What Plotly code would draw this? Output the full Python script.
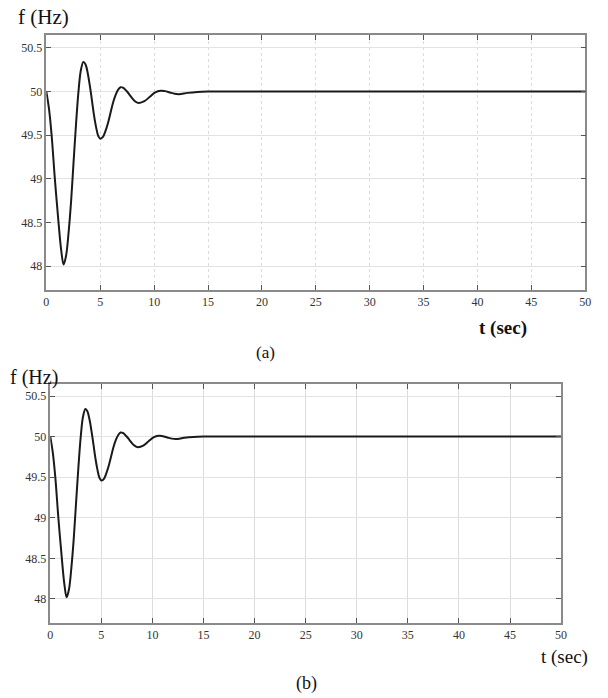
import plotly.graph_objects as go

# Data (same response in both panels)
t_sec = [0, 0.25, 0.49, 0.79, 1.13, 1.38, 1.6, 1.83, 2.06, 2.3, 2.52, 2.75, 2.98, 3.21, 3.44,
         3.64, 3.84, 4.03, 4.23, 4.42, 4.62, 4.82, 5.02, 5.25, 5.49, 5.72, 5.95, 6.18, 6.42, 6.65, 6.88,
         7.1, 7.31, 7.52, 7.74, 7.96, 8.17, 8.39, 8.6, 9.1, 9.6, 10.1, 10.6, 11.0, 11.45, 11.9, 12.3,
         13.1, 14.0, 15.0, 17, 20, 30, 40, 50]
f_hz = [50.0, 49.8, 49.5, 49.0, 48.5, 48.18, 48.02, 48.12, 48.38, 48.75, 49.18, 49.62, 50.0, 50.25, 50.34,
        50.31, 50.21, 50.07, 49.9, 49.73, 49.59, 49.49, 49.46, 49.48, 49.55, 49.64, 49.755, 49.87, 49.96, 50.02, 50.05,
        50.045, 50.024, 49.995, 49.96, 49.925, 49.896, 49.877, 49.87, 49.89, 49.94, 49.99, 50.01, 50.005, 49.99, 49.975, 49.97,
        49.985, 49.996, 50.0, 50.0, 50.0, 50.0, 50.0, 50.0]

x_ticks = [0, 5, 10, 15, 20, 25, 30, 35, 40, 45, 50]
x_tick_labels = ["0", "5", "10", "15", "20", "25", "30", "35", "40", "45", "50"]
y_ticks = [48, 48.5, 49, 49.5, 50, 50.5]
y_tick_labels = ["48", "48.5", "49", "49.5", "50", "50.5"]

FONT = "Liberation Serif"

fig = go.Figure()
for xa, ya in (("x", "y"), ("x2", "y2")):
    fig.add_trace(go.Scatter(x=t_sec, y=f_hz, mode="lines", xaxis=xa, yaxis=ya,
                             line=dict(color="#1a1a1a", width=2, shape="spline", smoothing=1.0),
                             showlegend=False, hoverinfo="skip"))

def xax(domain, anchor, griddash):
    return dict(domain=domain, anchor=anchor, range=[0, 50], tickvals=x_ticks, ticktext=x_tick_labels,
                showgrid=True, gridcolor="#dcdcdc", gridwidth=1, griddash=griddash,
                showline=True, linecolor="#8a8a8a", linewidth=1.5, mirror="ticks",
                ticks="inside", ticklen=5, tickcolor="#555", zeroline=False,
                tickfont=dict(family=FONT, size=12, color="#333"), fixedrange=True)

def yax(domain, anchor, rng):
    return dict(domain=domain, anchor=anchor, range=rng, tickvals=y_ticks, ticktext=y_tick_labels,
                showgrid=True, gridcolor="#e2e2e2", gridwidth=1,
                showline=True, linecolor="#8a8a8a", linewidth=1.5, mirror="ticks",
                ticks="inside", ticklen=5, tickcolor="#555", zeroline=False,
                tickfont=dict(family=FONT, size=12, color="#333"), fixedrange=True)

W, H = 608, 698
fig.update_layout(
    width=W, height=H, margin=dict(l=0, r=0, t=0, b=0),
    paper_bgcolor="white", plot_bgcolor="white",
    font=dict(family=FONT),
    xaxis=xax([44 / W, 591 / W], "y", "dot"),
    yaxis=yax([1 - 290 / H, 1 - 35 / H], "x", [47.727, 50.648]),
    xaxis2=xax([48 / W, 566.5 / W], "y2", "solid"),
    yaxis2=yax([1 - 623 / H, 1 - 384 / H], "x2", [47.704, 50.648]),
)

def label(text, x, y, size, bold=False):
    fig.add_annotation(text=("<b>%s</b>" % text) if bold else text, x=x / W, y=1 - y / H,
                       xref="paper", yref="paper", xanchor="center", yanchor="middle",
                       showarrow=False, font=dict(family=FONT, size=size, color="#111"))

label("f (Hz)", 41, 17, 21)
label("t (sec)", 508, 328, 19, bold=True)
label("(a)", 266, 352, 17)
label("f (Hz)", 31, 377, 20)
label("t (sec)", 570, 657, 19)
label("(b)", 308, 683, 18)

fig.write_html("out.html")
